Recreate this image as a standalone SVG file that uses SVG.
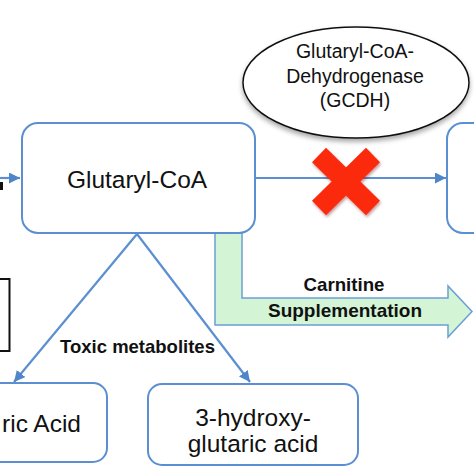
<svg xmlns="http://www.w3.org/2000/svg" width="474" height="474" viewBox="0 0 474 474">
<style>
.box{fill:#fff;stroke:#5b8fd1;stroke-width:2}
.con{stroke:#5b8fd1;stroke-width:2.2;fill:none}
.t{font-family:"Liberation Sans",Arial,sans-serif;fill:#111}
.b{font-weight:bold}
</style>
<defs>
<marker id="ah" viewBox="0 0 10 10" refX="10" refY="5" markerWidth="5" markerHeight="5" orient="auto" markerUnits="strokeWidth">
<path d="M0,0 L10,5 L0,10 Z" fill="#4f86c9"/>
</marker>
<filter id="sh" x="-20%" y="-20%" width="140%" height="150%">
<feDropShadow dx="0" dy="3" stdDeviation="2.5" flood-color="#000" flood-opacity="0.35"/>
</filter>
<filter id="sh2" x="-20%" y="-20%" width="140%" height="140%">
<feDropShadow dx="1" dy="2" stdDeviation="1.5" flood-color="#600" flood-opacity="0.4"/>
</filter>
</defs>

<g id="green-arrow">
<path d="M215,228 L242,228 L242,298 L448,298 L448,286 L472,311.5 L448,337 L448,325 L215,325 Z" fill="#d3f5d6" stroke="#6b9fd6" stroke-width="1.5"/>
<text class="t b" x="344" y="291" font-size="18.5" text-anchor="middle" textLength="81" lengthAdjust="spacingAndGlyphs">Carnitine</text>
<text class="t b" x="345" y="317" font-size="18.5" text-anchor="middle" textLength="154" lengthAdjust="spacingAndGlyphs">Supplementation</text>
</g>

<g id="connectors">
<line class="con" x1="0" y1="178" x2="20" y2="178" marker-end="url(#ah)"/>
<line class="con" x1="255" y1="178" x2="446" y2="178" marker-end="url(#ah)"/>
<line class="con" x1="137" y1="234" x2="14" y2="382" marker-end="url(#ah)"/>
<line class="con" x1="137" y1="234" x2="250" y2="382" marker-end="url(#ah)"/>
</g>

<g id="left-fragment">
<rect x="0" y="182" width="3" height="8" fill="#111"/>
<path d="M0,279 L9.5,279 L9.5,351 L0,351" fill="none" stroke="#111" stroke-width="2"/>
</g>

<g id="glutaryl-coa">
<rect class="box" x="22" y="123" width="233" height="110" rx="16"/>
<text class="t" x="137" y="188" font-size="24.5" text-anchor="middle">Glutaryl-CoA</text>
</g>

<g id="right-box">
<rect class="box" x="447" y="123" width="60" height="110" rx="16"/>
</g>

<g id="gcdh">
<ellipse cx="356" cy="82.5" rx="113" ry="55.5" fill="#fff" stroke="#111" stroke-width="1.5" filter="url(#sh)"/>
<text class="t" x="355" y="57.5" font-size="19.5" text-anchor="middle">Glutaryl-CoA-</text>
<text class="t" x="355" y="82.5" font-size="19.5" text-anchor="middle">Dehydrogenase</text>
<text class="t" x="355" y="107" font-size="19.5" text-anchor="middle">(GCDH)</text>
</g>

<g id="block-x" filter="url(#sh2)">
<line x1="319" y1="155" x2="373" y2="208" stroke="#fb2a10" stroke-width="20"/>
<line x1="373" y1="155" x2="319" y2="208" stroke="#fb2a10" stroke-width="20"/>
</g>

<g id="toxic-label">
<text class="t b" x="137.5" y="353" font-size="18.5" text-anchor="middle">Toxic metabolites</text>
</g>

<g id="glutaric-acid">
<rect class="box" x="-60" y="383" width="167" height="79" rx="14"/>
<text class="t" x="81" y="432" font-size="24.5" text-anchor="end">ric Acid</text>
</g>

<g id="hydroxy-glutaric-acid">
<rect class="box" x="148" y="384" width="210" height="81" rx="14"/>
<text class="t" x="253" y="426" font-size="24.5" text-anchor="middle">3-hydroxy-</text>
<text class="t" x="253" y="452" font-size="24.5" text-anchor="middle">glutaric acid</text>
</g>
</svg>
